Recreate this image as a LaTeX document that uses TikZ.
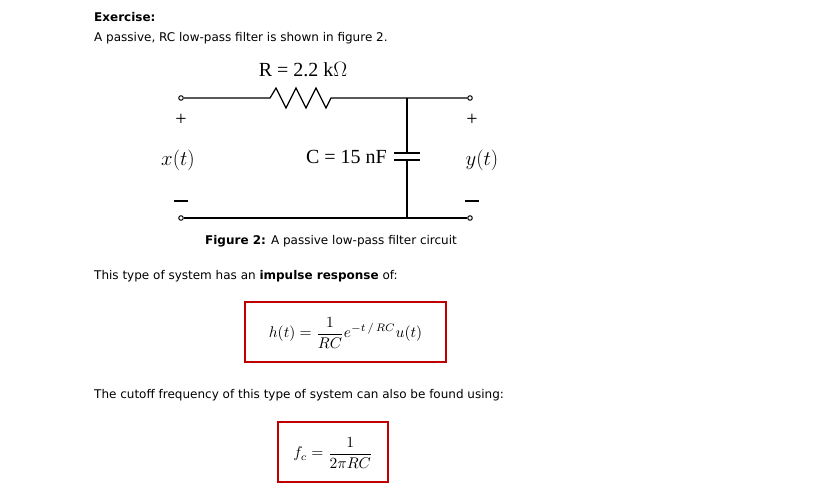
\documentclass[tikz,border=0pt]{standalone}
\usepackage{fontspec}
\setmainfont{DejaVu Sans}
\newfontfamily\serif{Liberation Serif}
\usetikzlibrary{calc}
\begin{document}
\begin{tikzpicture}[x=1pt,y=-1pt,
  txt/.style={anchor=west,inner sep=0pt,font=\fontsize{12}{14}\selectfont},
  ckt/.style={inner sep=0pt,font=\serif\fontsize{20}{22}\selectfont},
  term/.style={circle,draw,fill=white,inner sep=0pt,minimum size=4.5pt,line width=1pt},
  wire/.style={line width=1.2pt},
  redbox/.style={draw={rgb,255:red,192;green,0;blue,0},line width=2pt}]
\useasboundingbox (0,0) rectangle (819,497);
\node[txt,font=\bfseries\fontsize{12}{14}\selectfont] (ex) at (94,17) {Exercise:};
\node[txt] (l1) at (94,38) {A passive, RC low-pass filter is shown in figure 2.};
% circuit
\coordinate (ra) at (270,98); \coordinate (rb) at (337,98);
\coordinate (j) at (407,98); \coordinate (jb) at (407,218);
\coordinate (c1) at (407,153); \coordinate (c2) at (407,160);
\node[term] (t1) at (181,98) {};
\node[term] (t2) at (470,98) {};
\node[term] (t3) at (181,218) {};
\node[term] (t4) at (470,218) {};
\draw[wire] (t1) -- (ra) -- ++(6,-10) -- ++(10,20) -- ++(10,-20) -- ++(10,20) -- ++(10,-20) -- ++(10,20) -- ++(5,-10) -- (rb) -- (t2);
\draw[wire] (j) -- (c1); \draw[wire] (c2) -- (jb);
\draw[wire] ($(c1)+(-13,0)$) -- ($(c1)+(13,0)$);
\draw[wire] ($(c2)+(-13,0)$) -- ($(c2)+(13,0)$);
\draw[wire] (t3) -- (t4);
\node[ckt] (rl) at (303,70) {R = 2.2 k$\Omega$};
\node[ckt,anchor=east] (cl) at (387,157) {C = 15 nF};
\node[ckt] (p1) at (181,120) {+};
\node[ckt] (x) at (178,160) {$x(t)$};
\node[ckt] (p2) at (472,120) {+};
\node[ckt] (y) at (482,160) {$y(t)$};
\coordinate (m1a) at (174,201); \coordinate (m1b) at (188,201);
\coordinate (m2a) at (465,201); \coordinate (m2b) at (479,201);
\draw[line width=2pt] (m1a) -- (m1b);
\draw[line width=2pt] (m2a) -- (m2b);
\node[txt,anchor=center] (cap) at (331,241) {\textbf{Figure 2:} A passive low-pass filter circuit};
\node[txt] (l2) at (94,276) {This type of system has an \textbf{impulse response} of:};
\draw[redbox] (245,302) rectangle (446,362);
\node[inner sep=0pt,scale=1.55] (h) at (345.5,333) {$\displaystyle h(t)=\frac{1}{RC}e^{-t\,/\,RC}u(t)$};
\node[txt] (l3) at (94,395) {The cutoff frequency of this type of system can also be found using:};
\draw[redbox] (278,422) rectangle (388,482);
\node[inner sep=0pt,scale=1.55] (f) at (333,453) {$\displaystyle f_c=\frac{1}{2\pi RC}$};
\end{tikzpicture}
\end{document}
